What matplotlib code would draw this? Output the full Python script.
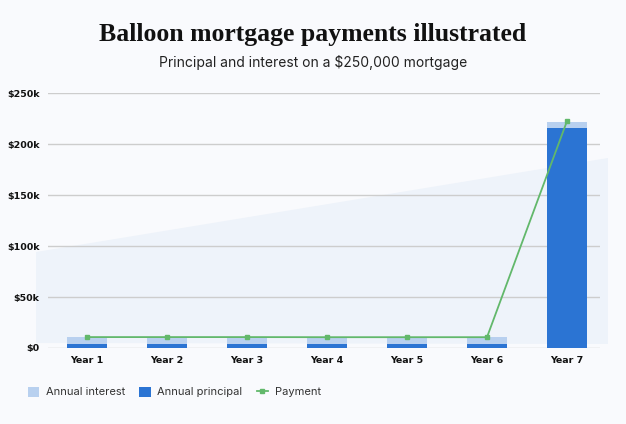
import matplotlib
matplotlib.use("Agg")
import matplotlib.pyplot as plt
from matplotlib.patches import Polygon, Patch
from matplotlib.lines import Line2D
import numpy as np

years = ["Year 1", "Year 2", "Year 3", "Year 4", "Year 5", "Year 6", "Year 7"]
principal = [3600, 3700, 3800, 3900, 4000, 4300, 216000]
interest = [6900, 6800, 6700, 6600, 6500, 6200, 5500]
payment = [10700, 10700, 10700, 10600, 10600, 10600, 222500]
yticks = [0, 50000, 100000, 150000, 200000, 250000]
ytick_labels = ["$0", "$50k", "$100k", "$150k", "$200k", "$250k"]

W, H = 626, 424
fig = plt.figure(figsize=(W / 100, H / 100), dpi=100)
fig.patch.set_facecolor("#f9fafd")

# background decorative shape (pixel coords -> figure fraction)
pts = [(36, 343), (36, 252), (608, 158), (608, 344)]
poly = Polygon([(x / W, 1 - y / H) for x, y in pts], closed=True,
               transform=fig.transFigure, facecolor="#eef3fa", edgecolor="none", zorder=-5)
fig.patches.append(poly)

ax = fig.add_axes([48 / W, 1 - 348 / H, (600 - 48) / W, (348 - 93) / H])
ax.set_zorder(1)
ax.set_facecolor("none")
x = np.arange(len(years))
ax.bar(x, principal, width=0.5, color="#2b74d3", zorder=3)
ax.bar(x, interest, width=0.5, bottom=principal, color="#b8d0ef", zorder=3)
ax.plot(x, payment, color="#62b86b", lw=1.3, marker="s", markersize=3.3,
        zorder=4, clip_on=False)

ax.set_xlim(-0.4875, 6.4125)
ax.set_ylim(0, 250000)
ax.set_yticks(yticks)
ax.set_yticklabels(ytick_labels)
ax.set_xticks(x)
ax.set_xticklabels(years)
for s in ax.spines.values():
    s.set_visible(False)
ax.grid(axis="y", color="#cdcdcd", lw=1, zorder=1)
ax.tick_params(axis="both", length=0, labelsize=6.8, colors="#111111")
ax.tick_params(axis="y", pad=6)
ax.tick_params(axis="x", pad=6)
for lab in ax.get_xticklabels() + ax.get_yticklabels():
    lab.set_fontweight("bold")
    lab.set_fontfamily("DejaVu Sans")

fig.text(0.5, 1 - 35 / H, "Balloon mortgage payments illustrated", ha="center", va="center",
         fontsize=18.5, fontweight="bold", family="Liberation Serif", color="#111111")
fig.text(0.5, 1 - 62 / H, "Principal and interest on a $250,000 mortgage", ha="center",
         va="center", fontsize=10, family="Inter", color="#222222")

handles = [Patch(facecolor="#b8d0ef", edgecolor="none"),
           Patch(facecolor="#2b74d3", edgecolor="none"),
           Line2D([0], [0], color="#62b86b", lw=1.3, marker="s", markersize=3.3)]
labels = ["Annual interest", "Annual principal", "Payment"]
leg = fig.legend(handles, labels, loc="center left", bbox_to_anchor=(18 / W, 1 - 392 / H),
                 ncol=3, frameon=False, fontsize=8, handlelength=1.0, handleheight=1.0,
                 columnspacing=1.3, handletextpad=0.6)
for t in leg.get_texts():
    t.set_color("#333333")
    t.set_fontfamily("Inter")

fig.savefig("out.png", dpi=100, facecolor=fig.get_facecolor())
